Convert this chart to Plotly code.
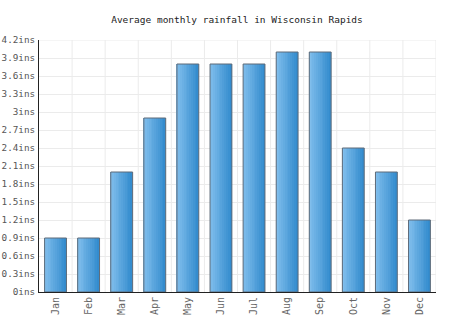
import plotly.graph_objects as go

months = ["Jan", "Feb", "Mar", "Apr", "May", "Jun", "Jul", "Aug", "Sep", "Oct", "Nov", "Dec"]
rainfall = [0.9, 0.9, 2.0, 2.9, 3.8, 3.8, 3.8, 4.0, 4.0, 2.4, 2.0, 1.2]
tick_vals = [0, 0.3, 0.6, 0.9, 1.2, 1.5, 1.8, 2.1, 2.4, 2.7, 3.0, 3.3, 3.6, 3.9, 4.2]
tick_text = ["0ins", "0.3ins", "0.6ins", "0.9ins", "1.2ins", "1.5ins", "1.8ins", "2.1ins",
             "2.4ins", "2.7ins", "3ins", "3.3ins", "3.6ins", "3.9ins", "4.2ins"]

x_idx = list(range(len(months)))
bar_w = 0.66
n_slices = 12
c0 = (128, 190, 236)
c1 = (52, 140, 206)

fig = go.Figure()
for i in range(n_slices):
    t = i / (n_slices - 1)
    col = tuple(int(round(c0[k] + (c1[k] - c0[k]) * t)) for k in range(3))
    fig.add_trace(go.Bar(
        x=x_idx, y=rainfall, width=bar_w / n_slices + 0.002,
        offset=-bar_w / 2 + i * bar_w / n_slices,
        marker=dict(color="rgb(%d,%d,%d)" % col, line=dict(width=0)),
        hoverinfo="skip", showlegend=False))
fig.add_trace(go.Bar(
    x=x_idx, y=rainfall, width=bar_w,
    marker=dict(color="rgba(0,0,0,0)", line=dict(color="#5f6b78", width=1)),
    showlegend=False))

grid = "#ebebeb"
fig.update_layout(
    barmode="overlay",
    width=474, height=331,
    margin=dict(l=39, r=38, t=40, b=39, autoexpand=False),
    paper_bgcolor="white", plot_bgcolor="white",
    title=dict(text="Average monthly rainfall in Wisconsin Rapids", x=0.5, xanchor="center",
               y=0.94, yanchor="middle",
               font=dict(family="DejaVu Sans Mono", size=9.5, color="#222")),
    font=dict(family="DejaVu Sans Mono", size=10, color="#555"),
    xaxis=dict(range=[-0.5, 11.5], tickmode="array", tickvals=x_idx, ticktext=months,
               tickangle=-90, showgrid=False, showline=True, linecolor="#222", linewidth=1,
               ticks="", zeroline=False, automargin=False, tickfont=dict(color="#666")),
    yaxis=dict(range=[0, 4.2], tickmode="array", tickvals=tick_vals, ticktext=tick_text,
               showgrid=True, gridcolor=grid, gridwidth=1, showline=True, linecolor="#222",
               linewidth=1, ticks="", zeroline=False, ticklabelstandoff=1, automargin=False,
               tickfont=dict(size=9.3)),
)
for b in [i + 0.5 for i in range(12)]:
    fig.add_shape(type="line", x0=b, x1=b, y0=0, y1=4.2, xref="x", yref="y",
                  line=dict(color=grid, width=1), layer="below")
fig.add_shape(type="line", x0=-0.5, x1=11.5, y0=4.2, y1=4.2, xref="x", yref="y",
              line=dict(color=grid, width=1), layer="below")

fig.write_html("out.html")
